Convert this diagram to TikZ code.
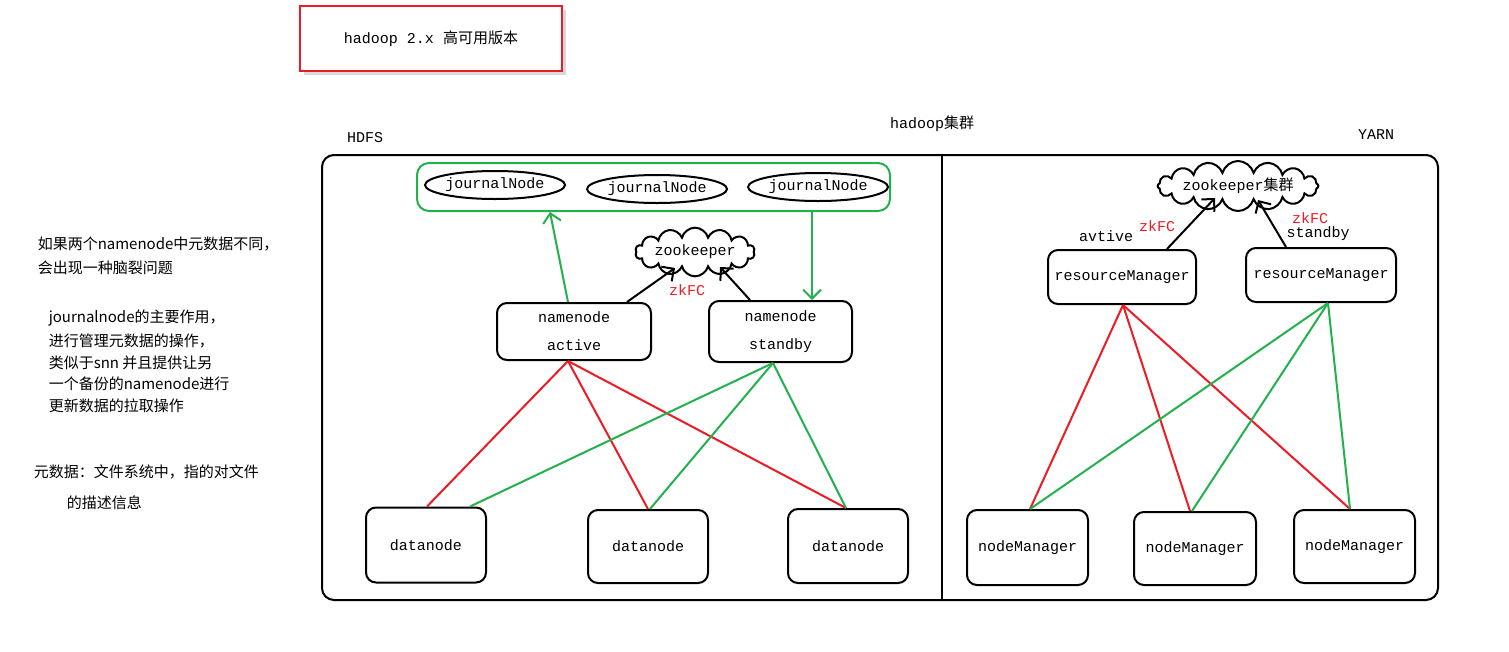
\documentclass[tikz,border=0pt]{standalone}
\usepackage{fontspec}
\setmainfont{Noto Sans CJK SC}
\setmonofont{Liberation Mono}
\newfontfamily\cjk{Noto Sans CJK SC}
\usetikzlibrary{shapes.symbols,shapes.geometric,arrows.meta}
\tikzset{every picture/.style={line width=2pt}}
\tikzset{
  lbl/.style={font=\fontsize{15}{18}\selectfont\ttfamily, inner sep=0.75pt},
  note/.style={font=\fontsize{15}{18}\selectfont, anchor=west, inner sep=0.75pt},
  nodebox/.style={draw, rounded corners=10pt, lbl},
  jnode/.style={draw, ellipse, lbl, minimum width=124pt, minimum height=28pt, inner sep=0pt},
  zk/.style={draw, cloud, cloud puffs=14, aspect=4, lbl, inner sep=1pt},
  redline/.style={draw={rgb,255:red,237;green,28;blue,36}},
  greenline/.style={draw={rgb,255:red,34;green,177;blue,76}},
  barb/.style={-{Straight Barb[length=9pt,width=18pt]}},
  zkfc/.style={text={rgb,255:red,237;green,28;blue,36}, font=\fontsize{15}{18}\selectfont\ttfamily}
}
\begin{document}
\begin{tikzpicture}[x=1pt,y=1pt,yscale=-1]
    \useasboundingbox (0,0) rectangle (1509,651);

    % title
    \draw [fill=black!15, draw=none] (304,10) rectangle (566,75);
    \node (title) [draw={rgb,255:red,237;green,28;blue,36}, fill=white, minimum width=262pt, minimum height=65pt, lbl] at (431,38.5) {hadoop 2.x {\cjk 高可用版本}};

    % frame
    \node (cluster) [lbl] at (932,124) {hadoop{\cjk 集群}};
    \node (hdfs) [lbl] at (365,138) {HDFS};
    \node (yarn) [lbl] at (1376,135) {YARN};
    \draw [rounded corners=12pt] (322,155) rectangle (1438,600);
    \coordinate (divtop) at (942,155);
    \coordinate (divbot) at (942,600);
    \draw (divtop) -- (divbot);

    % journal nodes
    \node (jgroup) [draw={rgb,255:red,34;green,177;blue,76}, rounded corners=12pt, minimum width=473pt, minimum height=48pt] at (653.5,187) {};
    \node (j1) [jnode] at (495,185) {journalNode};
    \node (j2) [jnode] at (657,189) {journalNode};
    \node (j3) [jnode] at (818,187) {journalNode};

    % zookeeper
    \node (zk1) [zk] at (695,252) {zookeeper};
    \node (zkfc1) [zkfc] at (687,290) {zkFC};

    % namenodes
    \node (nn1) [nodebox, minimum width=154pt, minimum height=57pt, align=center] at (574,331.5) {namenode\\[10pt]active};
    \node (nn2) [nodebox, minimum width=143pt, minimum height=61pt, align=center] at (780.5,331.5) {namenode\\[10pt]standby};

    % datanodes
    \node (dn1) [nodebox, minimum width=120pt, minimum height=75pt] at (426,545) {datanode};
    \node (dn2) [nodebox, minimum width=120pt, minimum height=73pt] at (648,546.5) {datanode};
    \node (dn3) [nodebox, minimum width=120pt, minimum height=74pt] at (848,546) {datanode};

    % hdfs connectors
    \draw [greenline, barb] (nn1.north -| 568,0) -- (jgroup.south -| 550,0);
    \draw [greenline, barb] (jgroup.south -| 812,0) -- (nn2.north -| 812,0);
    \draw [barb] (nn1.north -| 627,0) -- (675,268);
    \draw [barb] (nn2.north -| 750,0) -- (720,267);
    \foreach \d/\x in {dn1/427,dn2/648,dn3/846}
      \draw [redline] (nn1.south -| 568,0) -- (\d.north -| \x,0);
    \foreach \d/\x in {dn1/470,dn2/650,dn3/846}
      \draw [greenline] (nn2.south -| 773,0) -- (\d.north -| \x,0);

    % yarn
    \node (zk2) [zk, cloud puffs=16, aspect=6] at (1238,186) {zookeeper{\cjk 集群}};
    \node (rm1) [nodebox, minimum width=148pt, minimum height=54pt] at (1122,277) {resourceManager};
    \node (rm2) [nodebox, minimum width=150pt, minimum height=54pt] at (1321,275) {resourceManager};
    \node (act) [lbl] at (1106,236) {avtive};
    \node (zkfc2) [zkfc] at (1157,226) {zkFC};
    \node (zkfc3) [zkfc] at (1310,218) {zkFC};
    \node (stb) [lbl] at (1318,234) {standby};
    \draw [barb] (rm1.north -| 1167,0) -- (1215,198);
    \draw [barb] (rm2.north -| 1286,0) -- (1258,200);

    \node (nm1) [nodebox, minimum width=121pt, minimum height=75pt] at (1027.5,547.5) {nodeManager};
    \node (nm2) [nodebox, minimum width=122pt, minimum height=73pt] at (1195,548.5) {nodeManager};
    \node (nm3) [nodebox, minimum width=121pt, minimum height=73pt] at (1354.5,546.5) {nodeManager};
    \foreach \d/\x in {nm1/1030,nm2/1190,nm3/1350}
      \draw [redline] (rm1.south -| 1123,0) -- (\d.north -| \x,0);
    \foreach \d/\x in {nm1/1030,nm2/1192,nm3/1350}
      \draw [greenline] (rm2.south -| 1328,0) -- (\d.north -| \x,0);

    % notes
    \node (n1) [note] at (36,244) {如果两个namenode中元数据不同，};
    \node (n2) [note] at (36,268) {会出现一种脑裂问题};
    \node (n3) [note] at (47,318) {journalnode的主要作用，};
    \node (n4) [note] at (47,341) {进行管理元数据的操作，};
    \node (n5) [note] at (47,363) {类似于snn 并且提供让另};
    \node (n6) [note] at (47,384) {一个备份的namenode进行};
    \node (n7) [note] at (47,406) {更新数据的拉取操作};
    \node (n8) [note] at (32,472) {元数据：文件系统中，指的对文件};
    \node (n9) [note] at (65,503) {的描述信息};
\end{tikzpicture}
\end{document}
